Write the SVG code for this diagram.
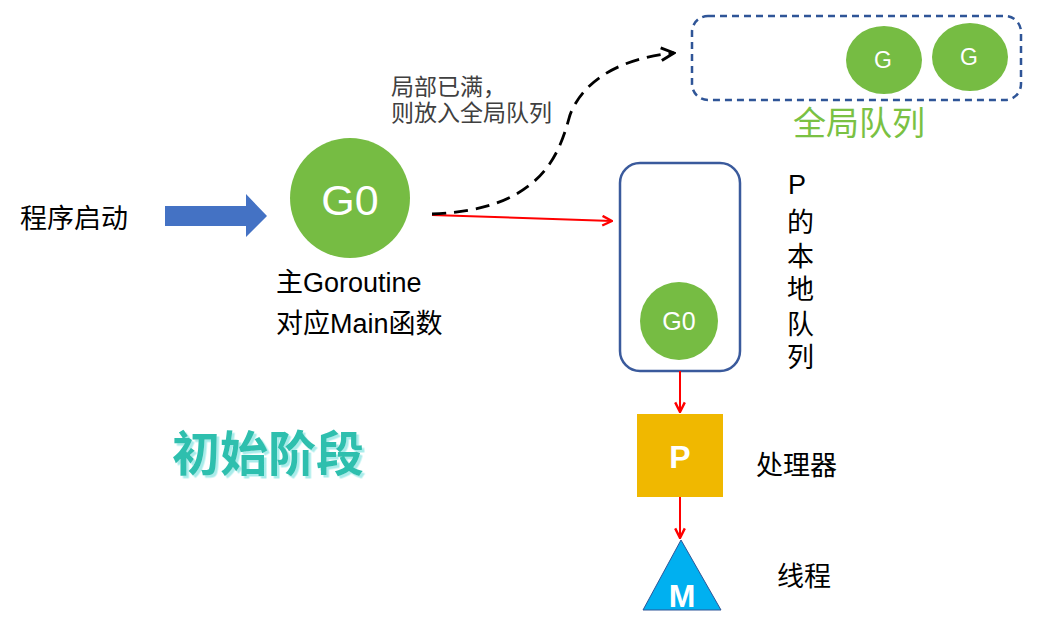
<svg xmlns="http://www.w3.org/2000/svg" width="1043" height="632" viewBox="0 0 1043 632">
<style>
  text { font-family: "Liberation Sans", "Noto Sans CJK SC", sans-serif; }
  .lbl { font-size: 27px; fill: #000; }
  .wt { fill: #fff; text-anchor: middle; }
  .g { fill: #76BC43; }
  .red { stroke: #FF0000; stroke-width: 2; fill: none; }
</style>
<defs>
  <marker id="ar" markerWidth="12" markerHeight="12" refX="9" refY="5" orient="auto" markerUnits="userSpaceOnUse" viewBox="0 0 10 10">
    <path d="M1,1 L9,5 L1,9" fill="none" stroke="#FF0000" stroke-width="2"/>
  </marker>
  <marker id="ab" markerWidth="16" markerHeight="16" refX="9" refY="5" orient="auto" markerUnits="userSpaceOnUse" viewBox="0 0 10 10">
    <path d="M1,1 L9,5 L1,9" fill="none" stroke="#000" stroke-width="1.8"/>
  </marker>
  <filter id="sh" x="-10%" y="-20%" width="130%" height="150%">
    <feDropShadow dx="2.5" dy="2.5" stdDeviation="0.6" flood-color="#A8ECEA" flood-opacity="1"/>
  </filter>
</defs>
<rect width="1043" height="632" fill="#fff"/>

<g id="start">
  <text class="lbl" x="20" y="228" font-size="28">程序启动</text>
  <polygon points="165,206 246,206 246,194 267,216 246,237 246,226 165,226" fill="#4472C4"/>
</g>

<g id="g0-main">
  <circle cx="350" cy="198" r="60" class="g"/>
  <text class="wt" x="350" y="215" font-size="43">G0</text>
  <text class="lbl" x="276" y="292" font-size="26">主Goroutine</text>
  <text class="lbl" x="276" y="333" font-size="26">对应Main函数</text>
</g>

<g id="global-queue">
  <rect x="692" y="16" width="329" height="84" rx="16" fill="none" stroke="#2F5597" stroke-width="2.5" stroke-dasharray="7 5"/>
  <ellipse cx="884" cy="60" rx="38" ry="34" class="g"/>
  <text class="wt" x="883" y="68" font-size="23">G</text>
  <ellipse cx="970" cy="57" rx="38" ry="34" class="g"/>
  <text class="wt" x="969" y="65" font-size="23">G</text>
  <text x="793" y="135" font-size="33" fill="#7AC143">全局队列</text>
</g>

<g id="note">
  <text x="391" y="95" font-size="23" fill="#404040">局部已满，</text>
  <text x="391" y="121" font-size="23" fill="#404040">则放入全局队列</text>
</g>

<g id="local-queue">
  <rect x="620" y="163" width="120" height="208" rx="20" fill="none" stroke="#3A5A9C" stroke-width="2.5"/>
  <circle cx="679" cy="321" r="39" class="g"/>
  <text class="wt" x="679" y="330" font-size="25">G0</text>
  <g class="lbl" font-size="27">
    <text x="788" y="194">P</text>
    <text x="787" y="232">的</text>
    <text x="787" y="266">本</text>
    <text x="787" y="299">地</text>
    <text x="787" y="334">队</text>
    <text x="787" y="367">列</text>
  </g>
</g>

<g id="processor">
  <rect x="637" y="414" width="86" height="83" fill="#F0B800"/>
  <text class="wt" x="680" y="468" font-size="32" font-weight="bold">P</text>
  <text class="lbl" x="756" y="475" font-size="28">处理器</text>
</g>

<g id="thread">
  <polygon points="681,540 643,610 721,610" fill="#00B0F0" stroke="#2F5597" stroke-width="1"/>
  <text class="wt" x="682" y="607" font-size="32" font-weight="bold">M</text>
  <text class="lbl" x="777" y="586" font-size="28">线程</text>
</g>

<g id="title">
  <text x="172" y="471" font-size="48" font-weight="bold" fill="#2FBFAE" filter="url(#sh)">初始阶段</text>
</g>

<g id="connectors">
  <line class="red" x1="432" y1="215" x2="612" y2="221" marker-end="url(#ar)"/>
  <line class="red" x1="680" y1="371" x2="680" y2="412" marker-end="url(#ar)"/>
  <line class="red" x1="680" y1="497" x2="680" y2="538" marker-end="url(#ar)"/>
  <path d="M432,214 C545,210 560,150 570,115 C585,75 630,57 674,53" fill="none" stroke="#000" stroke-width="2.8" stroke-dasharray="14 8" marker-end="url(#ab)"/>
</g>
</svg>
